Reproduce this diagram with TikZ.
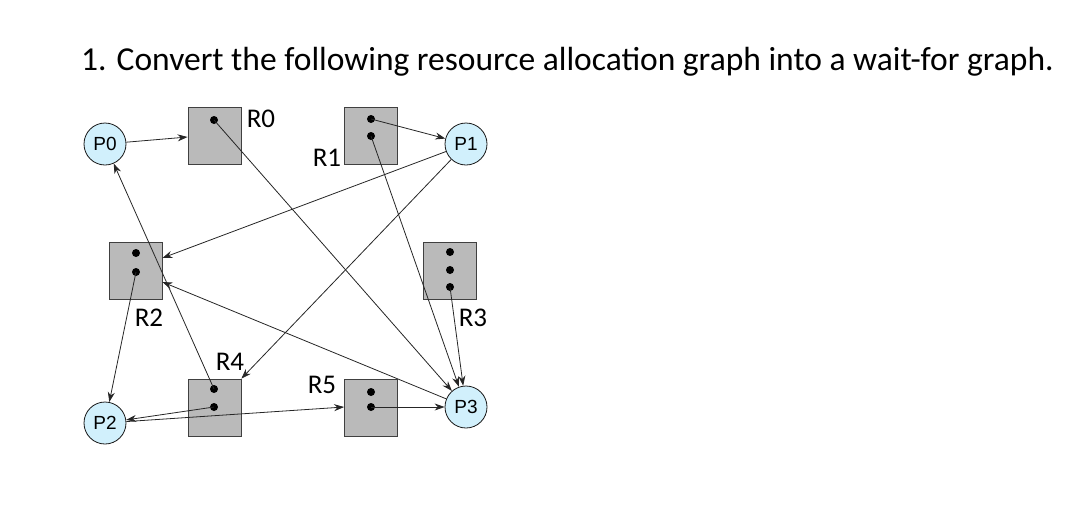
\documentclass[tikz,border=0pt]{standalone}
\usepackage{fontspec}
\setmainfont{Carlito}
\newfontfamily\arialf{Liberation Sans}
\usetikzlibrary{arrows.meta}
\begin{document}
\begin{tikzpicture}[x=1pt,y=-1pt,
  proc/.style={circle,draw=black!90,line width=0.8pt,fill=cyan!18,minimum size=42pt,inner sep=0pt,font=\arialf\fontsize{19}{19}\selectfont},
  res/.style={draw=black!75,line width=0.8pt,fill=black!27,minimum width=53pt,minimum height=57pt,inner sep=0pt},
  dot/.style={circle,fill=black,minimum size=8pt,inner sep=0pt},
  lbl/.style={font=\fontsize{27}{27}\selectfont},
  arr/.style={draw=black!85,line width=0.8pt,-{Stealth[length=10pt,width=7pt]}}]
\useasboundingbox (0,0) rectangle (1090,504);
\node[anchor=west,font=\fontsize{33.5}{33.5}\selectfont,inner sep=0pt] (title) at (81,62) {1. Convert the following resource allocation graph into a wait-for graph.};
\node[proc] (P0) at (105,144) {P0};
\node[proc] (P1) at (466,144) {P1};
\node[proc] (P2) at (105,423) {P2};
\node[proc] (P3) at (466,407) {P3};
\node[res] (R0) at (214.5,135.5) {};
\node[res] (R1) at (371,135.5) {};
\node[res] (R2) at (135.5,271) {};
\node[res] (R3) at (449.5,271) {};
\node[res] (R4) at (214.5,407.5) {};
\node[res] (R5) at (371,407.5) {};
\node[dot] (r0a) at (214,120) {};
\node[dot] (r1a) at (371,119) {};
\node[dot] (r1b) at (371,136) {};
\node[dot] (r2a) at (136,253) {};
\node[dot] (r2b) at (136,272) {};
\node[dot] (r3a) at (450,252) {};
\node[dot] (r3b) at (450,270) {};
\node[dot] (r3c) at (450,287) {};
\node[dot] (r4a) at (214,389) {};
\node[dot] (r4b) at (214,407) {};
\node[dot] (r5a) at (371,392) {};
\node[dot] (r5b) at (371,407) {};
\node[lbl] (l0) at (261,119) {R0};
\node[lbl] (l1) at (327,158) {R1};
\node[lbl] (l2) at (149,318) {R2};
\node[lbl] (l3) at (473,318) {R3};
\node[lbl] (l4) at (230,362) {R4};
\node[lbl] (l5) at (322,385) {R5};
\draw[arr] (P0) -- (R0.west |- 0,137);
\draw[arr] (r0a.center) -- (P3);
\draw[arr] (r1a.center) -- (P1);
\draw[arr] (r1b.center) -- (P3);
\draw[arr] (P1) -- (R2.east |- 0,258);
\draw[arr] (P1) -- (R4.north east);
\draw[arr] (r2b.center) -- (P2);
\draw[arr] (P3) -- (R2.east |- 0,282);
\draw[arr] (r3c.center) -- (P3);
\draw[arr] (r4a.center) -- (P0);
\draw[arr] (r4b.center) -- (P2);
\draw[arr] (P2) -- (R5.west |- 0,407);
\draw[arr] (r5b.center) -- (P3);
\end{tikzpicture}
\end{document}
